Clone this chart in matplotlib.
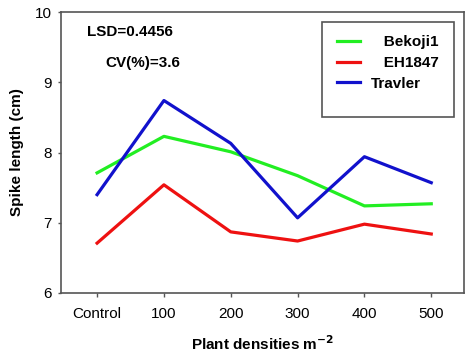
import matplotlib.pyplot as plt
from matplotlib.patches import Rectangle

plt.rcParams['font.family'] = ['Liberation Sans', 'DejaVu Sans']

densities = ['Control', '100', '200', '300', '400', '500']
bekoji1 = [7.71, 8.23, 8.01, 7.67, 7.24, 7.27]
eh1847 = [6.71, 7.54, 6.87, 6.74, 6.98, 6.84]
travler = [7.40, 8.74, 8.13, 7.07, 7.94, 7.57]

x = range(len(densities))

fig = plt.figure(figsize=(4.74, 3.52), dpi=100)
ax = fig.add_axes([61 / 474, 1 - 293 / 352, (464 - 61) / 474, (293 - 12) / 352])

ax.plot(x, bekoji1, color='#22ee22', lw=2.3, label='   Bekoji1')
ax.plot(x, eh1847, color='#ee1111', lw=2.3, label='   EH1847')
ax.plot(x, travler, color='#1111cc', lw=2.3, label='Travler')

ax.set_xlim(-0.54, 5.49)
ax.set_ylim(6, 10)
ax.set_xticks(list(x))
ax.set_xticklabels(densities)
ax.set_yticks([6, 7, 8, 9, 10])
ax.tick_params(labelsize=11, color='#555555', width=1)
ax.tick_params(axis='x', length=3, pad=7)
ax.tick_params(axis='y', length=2.5, pad=4)
for s in ax.spines.values():
    s.set_color('#555555')
    s.set_linewidth(1.2)

ax.set_xlabel('Plant densities m$^{\\mathbf{-2}}$', fontsize=11, fontweight='bold', labelpad=10)
ax.set_ylabel('Spike length (cm)', fontsize=11, fontweight='bold', labelpad=8)

ax.text(0.0645, 0.929, 'LSD=0.4456', transform=ax.transAxes, fontsize=11, fontweight='bold', va='center')
ax.text(0.109, 0.818, 'CV(%)=3.6', transform=ax.transAxes, fontsize=11, fontweight='bold', va='center')

# legend frame is taller than its entries, so draw it separately
ax.add_patch(Rectangle((0.648, 0.626), 0.327, 0.338, transform=ax.transAxes,
                       facecolor='white', edgecolor='#555555', lw=1.2, zorder=4))
leg = ax.legend(loc='upper left', bbox_to_anchor=((337 - 61) / 403, 1 - (35 - 12) / 281),
                prop={'weight': 'bold', 'size': 11}, frameon=False,
                handlelength=1.5, handletextpad=0.7, borderpad=0, borderaxespad=0,
                labelspacing=0.45)
leg.set_zorder(5)

fig.savefig('out.png', dpi=100)
